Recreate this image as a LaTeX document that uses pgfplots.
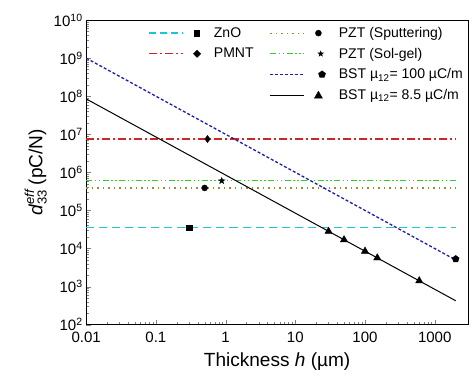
\documentclass[border=0pt]{standalone}
\usepackage{fontspec}
\setmainfont{Liberation Sans}
\usepackage{pgfplots}
\pgfplotsset{compat=1.18}
\usetikzlibrary{shapes.geometric}
\definecolor{turq}{rgb}{0.1,0.78,0.82}
\definecolor{redd}{RGB}{200,40,40}
\definecolor{olivy}{RGB}{150,140,50}
\definecolor{greeny}{RGB}{40,210,40}
\definecolor{navyb}{RGB}{30,30,170}
\newcommand{\tp}[1]{10\textsuperscript{#1}}
\pgfdeclareplotmark{fstar}{%
  \pgfpathmoveto{\pgfqpointpolar{90}{\pgfplotmarksize}}%
  \pgfpathlineto{\pgfqpointpolar{126}{0.42\pgfplotmarksize}}%
  \pgfpathlineto{\pgfqpointpolar{162}{\pgfplotmarksize}}%
  \pgfpathlineto{\pgfqpointpolar{198}{0.42\pgfplotmarksize}}%
  \pgfpathlineto{\pgfqpointpolar{234}{\pgfplotmarksize}}%
  \pgfpathlineto{\pgfqpointpolar{270}{0.42\pgfplotmarksize}}%
  \pgfpathlineto{\pgfqpointpolar{306}{\pgfplotmarksize}}%
  \pgfpathlineto{\pgfqpointpolar{342}{0.42\pgfplotmarksize}}%
  \pgfpathlineto{\pgfqpointpolar{18}{\pgfplotmarksize}}%
  \pgfpathlineto{\pgfqpointpolar{54}{0.42\pgfplotmarksize}}%
  \pgfpathclose\pgfusepathqfill}
\begin{document}
\begin{tikzpicture}
\begin{axis}[
  scale only axis, width=381pt, height=304pt,
  xmode=log, ymode=log,
  xmin=0.01, xmax=3000, ymin=1e2, ymax=1e10,
  xtick={0.01,0.1,1,10,100,1000},
  xticklabels={0.01,0.1,1,10,100,1000},
  ytick={1e2,1e3,1e4,1e5,1e6,1e7,1e8,1e9,1e10},
  yticklabels={\tp{2},\tp{3},\tp{4},\tp{5},\tp{6},\tp{7},\tp{8},\tp{9},\tp{10}},
  tick label style={font=\fontsize{15}{15}\selectfont},
  xticklabel style={yshift=-4pt},
  xtick pos=bottom, ytick pos=left, tick align=inside,
  major tick length=5pt, minor tick length=3pt,
  axis line style={line width=0.8pt},
  xlabel={Thickness \textit{h} (\textmu m)},
  ylabel={$\mbox{\textit{d}}^{\mbox{\fontsize{13}{13}\selectfont\textit{eff}}}_{\mbox{\fontsize{13}{13}\selectfont 33}}$\,(pC/N)},
  label style={font=\fontsize{19}{19}\selectfont},
  xlabel style={yshift=-3pt},
  legend columns=2,
  legend style={draw=none, fill=none, at={(1.0,0.99)}, anchor=north east,
    font=\fontsize{14}{14}\selectfont, row sep=5pt,
    /tikz/every even column/.append style={column sep=14pt}},
  legend cell align=left,
]
\coordinate (sw) at (rel axis cs:0,0);
\coordinate (ne) at (rel axis cs:1,1);
% lines
\addplot[draw=turq, line width=1.5pt, dash pattern=on 8pt off 5pt, forget plot] coordinates {(0.01,3.6e4) (2000,3.6e4)};
\addplot[draw=redd, line width=1.2pt, dash pattern=on 8pt off 3pt on 2pt off 3pt, forget plot] coordinates {(0.01,7.5e6) (2000,7.5e6)};
\addplot[draw=olivy, line width=1.2pt, dash pattern=on 1.5pt off 4pt, forget plot] coordinates {(0.01,3.9e5) (2000,3.9e5)};
\addplot[draw=greeny, line width=1.2pt, dash pattern=on 6pt off 2.5pt on 1.5pt off 2.5pt on 1.5pt off 2.5pt, forget plot] coordinates {(0.01,6.0e5) (2000,6.0e5)};
\addplot[draw=navyb, line width=1.3pt, dash pattern=on 3pt off 2pt, forget plot] coordinates {(0.01,1e9) (2000,5e3)};
\addplot[draw=black, line width=1pt, forget plot] coordinates {(0.01,8.5e7) (2000,4.25e2)};
% markers
\addplot[only marks, mark=square*, mark size=2.6pt, black, forget plot] coordinates {(0.3,3.6e4)};
\addplot[only marks, mark=diamond*, mark size=3.6pt, black, forget plot] coordinates {(0.55,7.5e6)};
\addplot[only marks, mark=*, mark size=3pt, black, forget plot] coordinates {(0.5,3.9e5)};
\addplot[only marks, mark=fstar, mark size=4pt, black, forget plot] coordinates {(0.88,6.0e5)};
\addplot[only marks, mark=pentagon*, mark size=3.6pt, black, forget plot] coordinates {(2000,5.3e3)};
\addplot[only marks, mark=triangle*, mark size=4.2pt, black, forget plot] coordinates {(30,2.83e4) (50,1.7e4) (100,8.5e3) (150,5.67e3) (600,1.42e3)};
% legend
\addlegendimage{legend image code/.code={
  \draw[draw=turq, line width=1.5pt, dash pattern=on 7pt off 4pt] (0pt,0pt) -- (34pt,0pt);
  \fill[black] (48pt,0pt) +(-2.6pt,-2.6pt) rectangle +(2.6pt,2.6pt);}}
\addlegendentry{\hspace{11pt}ZnO}
\addlegendimage{legend image code/.code={
  \draw[draw=olivy, line width=1.2pt, dash pattern=on 1.5pt off 4pt] (0pt,0pt) -- (34pt,0pt);
  \fill[black] (48pt,0pt) circle (3pt);}}
\addlegendentry{\hspace{11pt}PZT (Sputtering)}
\addlegendimage{legend image code/.code={
  \draw[draw=redd, line width=1.2pt, dash pattern=on 8pt off 3pt on 2pt off 3pt] (0pt,0pt) -- (34pt,0pt);
  \fill[black] (48pt,3.6pt) -- (51.6pt,0pt) -- (48pt,-3.6pt) -- (44.4pt,0pt) -- cycle;}}
\addlegendentry{\hspace{11pt}PMNT}
\addlegendimage{legend image code/.code={
  \draw[draw=greeny, line width=1.2pt, dash pattern=on 6pt off 2.5pt on 1.5pt off 2.5pt on 1.5pt off 2.5pt] (0pt,0pt) -- (34pt,0pt);
  \node[star, star points=5, star point ratio=2.4, fill=black, draw=none, inner sep=0pt, minimum size=7pt] at (48pt,0pt) {};}}
\addlegendentry{\hspace{11pt}PZT (Sol-gel)}
\addlegendimage{empty legend}
\addlegendentry{}
\addlegendimage{legend image code/.code={
  \draw[draw=navyb, line width=1.3pt, dash pattern=on 3pt off 2pt] (0pt,0pt) -- (34pt,0pt);
  \node[regular polygon, regular polygon sides=5, fill=black, draw=none, inner sep=0pt, minimum size=8pt] at (48pt,0pt) {};}}
\addlegendentry{\hspace{11pt}BST \textmu\textsubscript{12}= 100 \textmu C/m}
\addlegendimage{empty legend}
\addlegendentry{}
\addlegendimage{legend image code/.code={
  \draw[draw=black, line width=1pt] (0pt,0pt) -- (34pt,0pt);
  \fill[black] (48pt,4pt) -- (52pt,-3pt) -- (44pt,-3pt) -- cycle;}}
\addlegendentry{\hspace{11pt}BST \textmu\textsubscript{12}= 8.5 \textmu C/m}
\end{axis}
\pgfresetboundingbox
\path ([xshift=-86pt,yshift=-53pt]sw) rectangle ([xshift=6pt,yshift=20pt]ne);
\end{tikzpicture}
\end{document}
